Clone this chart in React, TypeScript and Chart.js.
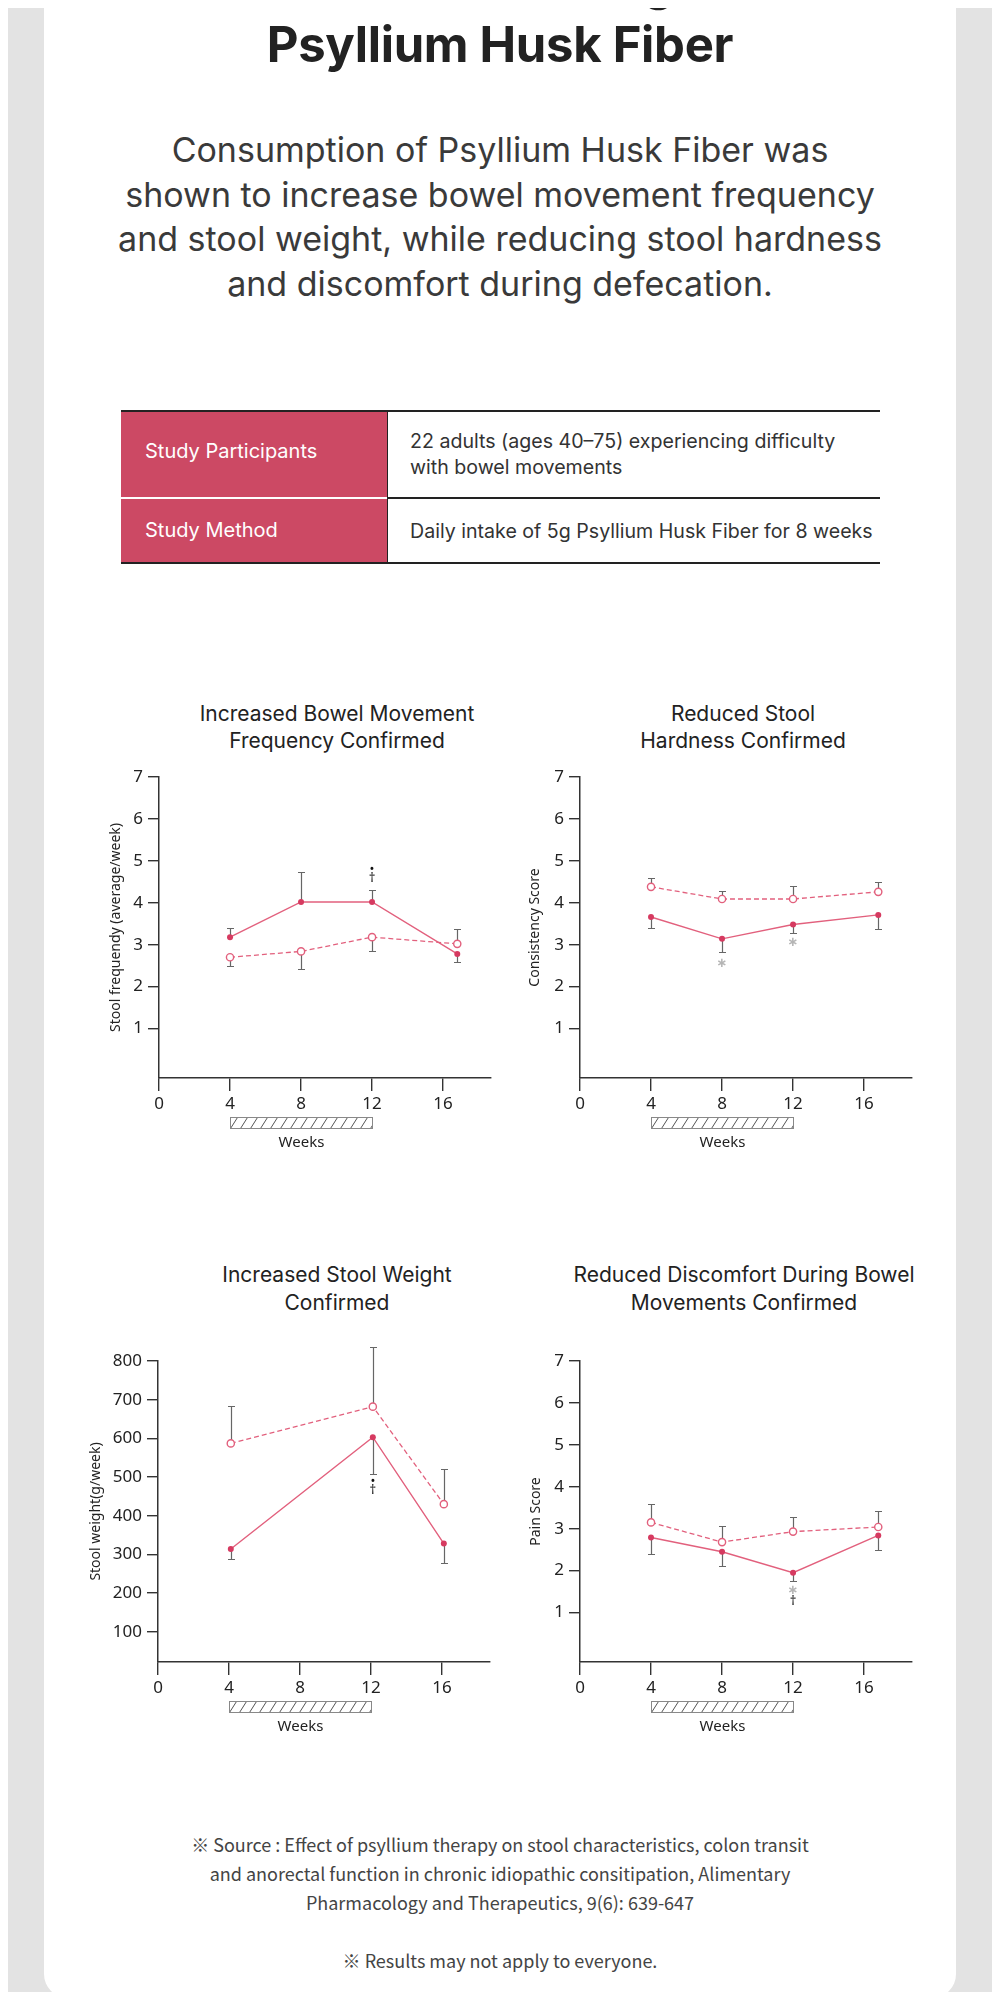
import React, { useEffect, useRef } from 'react';
import { Chart, registerables } from 'chart.js';

Chart.register(...registerables);

// ---------- data ----------
const WEEK_TICKS = [0, 4, 8, 12, 16];
const SCORE_TICKS = [1, 2, 3, 4, 5, 6, 7];
const WEIGHT_TICKS = [100, 200, 300, 400, 500, 600, 700, 800];
const TREATMENT_WEEKS = [4, 12];
const X_TITLE = 'Weeks';

// Bowel movement frequency
const FREQ_WEEKS = [4, 8, 12, 16.8];
const FREQ_SOLID = [3.18, 4.02, 4.02, 2.78];
const FREQ_SOLID_ERR = [3.4, 4.73, 4.31, 2.58];
const FREQ_DASHED = [2.7, 2.84, 3.18, 3.02];
const FREQ_DASHED_ERR = [2.48, 2.42, 2.86, 3.38];
const FREQ_NOTES = [
  { x: 12, y: 4.81, t: '•', c: '#111' },
  { x: 12, y: 4.58, t: '†', c: '#111' },
];

// Stool hardness
const HARD_WEEKS = [4, 8, 12, 16.8];
const HARD_SOLID = [3.66, 3.14, 3.48, 3.71];
const HARD_SOLID_ERR = [3.4, 2.82, 3.28, 3.37];
const HARD_DASHED = [4.38, 4.09, 4.09, 4.26];
const HARD_DASHED_ERR = [4.58, 4.29, 4.41, 4.49];
const HARD_NOTES = [
  { x: 8, y: 2.55, t: '∗', c: '#b5b5b5' },
  { x: 12, y: 3.04, t: '∗', c: '#b5b5b5' },
];

// Stool weight
const WEIGHT_WEEKS = [4.1, 12.1, 16.1];
const WEIGHT_SOLID = [314, 603, 328];
const WEIGHT_SOLID_ERR = [288, 509, 278];
const WEIGHT_DASHED = [587, 682, 430];
const WEIGHT_DASHED_ERR = [684, 837, 522];
const WEIGHT_NOTES = [
  { x: 12.1, y: 488, t: '•', c: '#111' },
  { x: 12.1, y: 466, t: '†', c: '#111' },
];

// Pain score
const PAIN_WEEKS = [4, 8, 12, 16.8];
const PAIN_SOLID = [2.79, 2.45, 1.95, 2.84];
const PAIN_SOLID_ERR = [2.39, 2.12, 1.76, 2.49];
const PAIN_DASHED = [3.15, 2.68, 2.93, 3.04];
const PAIN_DASHED_ERR = [3.58, 3.06, 3.29, 3.42];
const PAIN_NOTES = [
  { x: 12, y: 1.52, t: '∗', c: '#b5b5b5' },
  { x: 12, y: 1.26, t: '†', c: '#111' },
];

// ---------- styles ----------
const LINE_COLOR = '#e2607d';
const DOT_COLOR = '#d63a60';
const ERR_COLOR = '#666666';
const AXIS_COLOR = '#333333';
const CHART_FONT = "'Noto Sans', sans-serif";
const HTML_FONT = "Inter, 'Noto Sans', sans-serif";

type Note = { x: number; y: number; t: string; c: string };

interface PanelProps {
  left: number;
  top: number;
  yMin: number;
  yMax: number;
  yTicks: number[];
  yTitle: string;
  yTitlePad: number;
  weeks: number[];
  solid: number[];
  solidErr: number[];
  dashed: number[];
  dashedErr: number[];
  notes: Note[];
}

const CW = 412;
const CH = 403;
const Y_W = 70;
const X_H = 82;
const PAD_T = 20;
const PAD_R = 10;

function Panel(p: PanelProps) {
  const ref = useRef<HTMLCanvasElement>(null);
  useEffect(() => {
    const canvas = ref.current;
    if (!canvas) return;
    const overlay = {
      id: 'overlay',
      beforeDatasetsDraw(chart: any) {
        const { ctx } = chart;
        const xs = chart.scales.x;
        const ys = chart.scales.y;
        ctx.save();
        ctx.strokeStyle = ERR_COLOR;
        ctx.lineWidth = 1.2;
        const bars = (vals: number[], errs: number[]) => {
          vals.forEach((v, i) => {
            const e = errs[i];
            if (e == null) return;
            const px = Math.round(xs.getPixelForValue(p.weeks[i])) + 0.5;
            const y0 = ys.getPixelForValue(v);
            const y1 = Math.round(ys.getPixelForValue(e)) + 0.5;
            ctx.beginPath();
            ctx.moveTo(px, y0);
            ctx.lineTo(px, y1);
            ctx.moveTo(px - 3.5, y1);
            ctx.lineTo(px + 3.5, y1);
            ctx.stroke();
          });
        };
        bars(p.dashed, p.dashedErr);
        bars(p.solid, p.solidErr);
        ctx.restore();
      },
      afterDraw(chart: any) {
        const { ctx, chartArea } = chart;
        const xs = chart.scales.x;
        const ys = chart.scales.y;
        ctx.save();
        // treatment period hatched band
        const x0 = Math.round(xs.getPixelForValue(TREATMENT_WEEKS[0])) + 0.5;
        const x1 = Math.round(xs.getPixelForValue(TREATMENT_WEEKS[1])) + 0.5;
        const yTop = Math.round(chartArea.bottom + 39) + 0.5;
        const h = 11;
        ctx.save();
        ctx.beginPath();
        ctx.rect(x0, yTop, x1 - x0, h);
        ctx.clip();
        ctx.strokeStyle = '#555';
        ctx.lineWidth = 1;
        ctx.beginPath();
        for (let x = x0 - 10; x < x1 + 10; x += 10) {
          ctx.moveTo(x, yTop + h);
          ctx.lineTo(x + 7, yTop);
        }
        ctx.stroke();
        ctx.restore();
        ctx.strokeStyle = '#888';
        ctx.lineWidth = 1;
        ctx.strokeRect(x0, yTop, x1 - x0, h);
        // x axis title centred under the treatment band
        ctx.fillStyle = '#222';
        ctx.font = `15px ${CHART_FONT}`;
        ctx.textAlign = 'center';
        ctx.textBaseline = 'middle';
        ctx.fillText(X_TITLE, (x0 + x1) / 2, chartArea.bottom + 65);
        // significance marks
        p.notes.forEach((n) => {
          ctx.fillStyle = n.c;
          ctx.font = n.t === '∗' ? "bold 13px 'DejaVu Sans'" : `13px ${CHART_FONT}`;
          ctx.fillText(n.t, xs.getPixelForValue(n.x), ys.getPixelForValue(n.y));
        });
        ctx.restore();
      },
    };

    const chart = new Chart(canvas, {
      type: 'line',
      data: {
        datasets: [
          {
            data: p.weeks.map((w, i) => ({ x: w, y: p.dashed[i] })),
            borderColor: LINE_COLOR,
            borderWidth: 1.3,
            borderDash: [5, 3],
            pointRadius: 3.6,
            pointBackgroundColor: '#ffffff',
            pointBorderColor: LINE_COLOR,
            pointBorderWidth: 1.4,
            tension: 0,
            clip: false,
          } as any,
          {
            data: p.weeks.map((w, i) => ({ x: w, y: p.solid[i] })),
            borderColor: LINE_COLOR,
            borderWidth: 1.4,
            pointRadius: 3,
            pointBackgroundColor: DOT_COLOR,
            pointBorderColor: DOT_COLOR,
            pointBorderWidth: 0,
            tension: 0,
            clip: false,
          } as any,
        ],
      },
      options: {
        responsive: false,
        animation: false,
        events: [],
        layout: { padding: { top: PAD_T, right: PAD_R, left: 0, bottom: 0 } },
        plugins: {
          legend: { display: false },
          tooltip: { enabled: false },
          title: { display: false },
        },
        scales: {
          x: {
            type: 'linear',
            min: 0,
            max: 18.7,
            afterBuildTicks: (s: any) => {
              s.ticks = WEEK_TICKS.map((v) => ({ value: v }));
            },
            afterFit: (s: any) => {
              s.height = X_H;
            },
            grid: {
              display: true,
              drawOnChartArea: false,
              drawTicks: true,
              tickLength: 13,
              color: AXIS_COLOR,
              lineWidth: 1.4,
            },
            border: { display: true, color: AXIS_COLOR, width: 1.5 },
            ticks: {
              autoSkip: false,
              maxRotation: 0,
              padding: 3,
              color: '#222',
              font: { family: CHART_FONT, size: 17 },
            },
            title: { display: false },
          },
          y: {
            type: 'linear',
            min: p.yMin,
            max: p.yMax,
            afterBuildTicks: (s: any) => {
              s.ticks = p.yTicks.map((v) => ({ value: v }));
            },
            afterFit: (s: any) => {
              s.width = Y_W;
            },
            grid: {
              display: true,
              drawOnChartArea: false,
              drawTicks: true,
              tickLength: 11,
              color: AXIS_COLOR,
              lineWidth: 1.4,
            },
            border: { display: true, color: AXIS_COLOR, width: 1.5 },
            ticks: {
              autoSkip: false,
              padding: 5,
              color: '#222',
              font: { family: CHART_FONT, size: 17 },
            },
            title: {
              display: true,
              text: p.yTitle,
              color: '#222',
              font: { family: CHART_FONT, size: 14, lineHeight: 1.2 },
              padding: { top: p.yTitlePad, bottom: 0 },
            },
          },
        },
      } as any,
      plugins: [overlay],
    });
    return () => chart.destroy();
  }, []);
  return (
    <canvas
      ref={ref}
      width={CW}
      height={CH}
      style={{ position: 'absolute', left: p.left, top: p.top, width: CW, height: CH }}
    />
  );
}

function ChartTitle({ cx, top, lines }: { cx: number; top: number; lines: string[] }) {
  return (
    <div
      style={{
        position: 'absolute',
        left: cx - 220,
        top,
        width: 440,
        textAlign: 'center',
        fontFamily: HTML_FONT,
        fontSize: 21,
        lineHeight: '27.5px',
        color: '#222',
        whiteSpace: 'nowrap',
      }}
    >
      {lines.map((l, i) => (
        <div key={i}>{l}</div>
      ))}
    </div>
  );
}

const TABLE_RED = '#cc4964';
const DARK_LINE = '#222';

export default function App() {
  return (
    <div
      style={{
        margin: -8,
        width: 1000,
        height: 2000,
        position: 'relative',
        overflow: 'hidden',
        background: '#e3e3e3',
      }}
    >
      <div
        style={{
          position: 'absolute',
          left: 44,
          top: -40,
          width: 912,
          height: 2038,
          background: '#ffffff',
          borderRadius: 24,
        }}
      />
      {/* headline */}
      <div
        style={{
          position: 'absolute',
          left: 0,
          width: 1000,
          top: -48.5,
          textAlign: 'center',
          fontFamily: HTML_FONT,
          fontWeight: 700,
          fontSize: 49,
          lineHeight: '62px',
          color: '#222',
          letterSpacing: -0.3,
          whiteSpace: 'nowrap',
        }}
      >
        <div>Effect of Using</div>
        <div>Psyllium Husk Fiber</div>
      </div>
      {/* description */}
      <div
        style={{
          position: 'absolute',
          left: 0,
          width: 1000,
          top: 128.3,
          textAlign: 'center',
          fontFamily: HTML_FONT,
          fontSize: 34,
          lineHeight: '44.5px',
          color: '#3a3a3a',
          whiteSpace: 'nowrap',
        }}
      >
        <div>Consumption of Psyllium Husk Fiber was</div>
        <div>shown to increase bowel movement frequency</div>
        <div>and stool weight, while reducing stool hardness</div>
        <div>and discomfort during defecation.</div>
      </div>
      {/* study table */}
      <div style={{ position: 'absolute', left: 121, top: 411, width: 266, height: 152, background: TABLE_RED }} />
      <div style={{ position: 'absolute', left: 121, top: 410, width: 759, height: 1.5, background: DARK_LINE }} />
      <div style={{ position: 'absolute', left: 121, top: 497, width: 266, height: 1.5, background: '#ffffff' }} />
      <div style={{ position: 'absolute', left: 387, top: 497, width: 493, height: 1.5, background: DARK_LINE }} />
      <div style={{ position: 'absolute', left: 121, top: 562, width: 759, height: 1.5, background: DARK_LINE }} />
      <div style={{ position: 'absolute', left: 386.5, top: 411, width: 1.5, height: 152, background: DARK_LINE }} />
      <div
        style={{
          position: 'absolute',
          left: 145,
          top: 438,
          fontFamily: HTML_FONT,
          fontSize: 20,
          lineHeight: '26px',
          color: '#fff',
          whiteSpace: 'nowrap',
        }}
      >
        Study Participants
      </div>
      <div
        style={{
          position: 'absolute',
          left: 145,
          top: 517,
          fontFamily: HTML_FONT,
          fontSize: 20,
          lineHeight: '26px',
          color: '#fff',
          whiteSpace: 'nowrap',
        }}
      >
        Study Method
      </div>
      <div
        style={{
          position: 'absolute',
          left: 410,
          top: 429,
          fontFamily: HTML_FONT,
          fontSize: 19.6,
          lineHeight: '25.6px',
          color: '#333',
          whiteSpace: 'nowrap',
        }}
      >
        <div>22 adults (ages 40–75) experiencing difficulty</div>
        <div>with bowel movements</div>
      </div>
      <div
        style={{
          position: 'absolute',
          left: 410,
          top: 518,
          fontFamily: HTML_FONT,
          fontSize: 19.6,
          lineHeight: '26px',
          color: '#333',
          whiteSpace: 'nowrap',
        }}
      >
        Daily intake of 5g Psyllium Husk Fiber for 8 weeks
      </div>

      {/* chart titles */}
      <ChartTitle cx={337} top={699.5} lines={['Increased Bowel Movement', 'Frequency Confirmed']} />
      <ChartTitle cx={743} top={699.5} lines={['Reduced Stool', 'Hardness Confirmed']} />
      <ChartTitle cx={337} top={1261} lines={['Increased Stool Weight', 'Confirmed']} />
      <ChartTitle cx={744} top={1261} lines={['Reduced Discomfort During Bowel', 'Movements Confirmed']} />

      <Panel
        left={89}
        top={757}
        yMin={-0.18}
        yMax={7}
        yTicks={SCORE_TICKS}
        yTitle="Stool frequendy (average/week)"
        yTitlePad={18.6}
        weeks={FREQ_WEEKS}
        solid={FREQ_SOLID}
        solidErr={FREQ_SOLID_ERR}
        dashed={FREQ_DASHED}
        dashedErr={FREQ_DASHED_ERR}
        notes={FREQ_NOTES}
      />
      <Panel
        left={510}
        top={757}
        yMin={-0.18}
        yMax={7}
        yTicks={SCORE_TICKS}
        yTitle="Consistency Score"
        yTitlePad={16.6}
        weeks={HARD_WEEKS}
        solid={HARD_SOLID}
        solidErr={HARD_SOLID_ERR}
        dashed={HARD_DASHED}
        dashedErr={HARD_DASHED_ERR}
        notes={HARD_NOTES}
      />
      <Panel
        left={88}
        top={1341}
        yMin={22}
        yMax={800}
        yTicks={WEIGHT_TICKS}
        yTitle="Stool weight(g/week)"
        yTitlePad={0}
        weeks={WEIGHT_WEEKS}
        solid={WEIGHT_SOLID}
        solidErr={WEIGHT_SOLID_ERR}
        dashed={WEIGHT_DASHED}
        dashedErr={WEIGHT_DASHED_ERR}
        notes={WEIGHT_NOTES}
      />
      <Panel
        left={510}
        top={1341}
        yMin={-0.18}
        yMax={7}
        yTicks={SCORE_TICKS}
        yTitle="Pain Score"
        yTitlePad={17.6}
        weeks={PAIN_WEEKS}
        solid={PAIN_SOLID}
        solidErr={PAIN_SOLID_ERR}
        dashed={PAIN_DASHED}
        dashedErr={PAIN_DASHED_ERR}
        notes={PAIN_NOTES}
      />

      {/* footer */}
      <div
        style={{
          position: 'absolute',
          left: 0,
          width: 1000,
          top: 1829.6,
          textAlign: 'center',
          fontFamily: "'Noto Sans CJK KR', sans-serif",
          fontSize: 18,
          lineHeight: '29px',
          color: '#444',
          whiteSpace: 'nowrap',
        }}
      >
        <div>※ Source : Effect of psyllium therapy on stool characteristics, colon transit</div>
        <div>and anorectal function in chronic idiopathic consitipation, Alimentary</div>
        <div>Pharmacology and Therapeutics, 9(6): 639-647</div>
      </div>
      <div
        style={{
          position: 'absolute',
          left: 0,
          width: 1000,
          top: 1945.6,
          textAlign: 'center',
          fontFamily: "'Noto Sans CJK KR', sans-serif",
          fontSize: 18,
          lineHeight: '29px',
          color: '#444',
          whiteSpace: 'nowrap',
        }}
      >
        ※ Results may not apply to everyone.
      </div>
    </div>
  );
}
